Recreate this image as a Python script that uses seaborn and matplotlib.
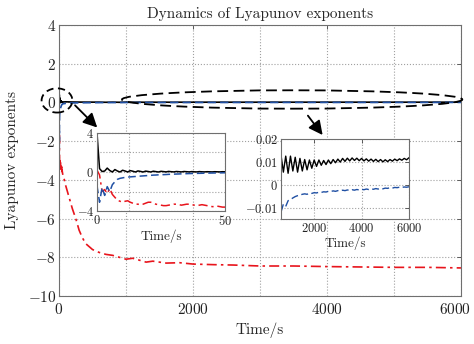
import numpy as np
import matplotlib
matplotlib.use("Agg")
import matplotlib.pyplot as plt
import matplotlib.transforms as mtransforms
from matplotlib.patches import Ellipse
from matplotlib.ticker import FixedLocator, FuncFormatter
import seaborn as sns

# ---- data -------------------------------------------------------------
# transient phase, 0-50 s (1 s steps)
t_early = np.arange(0, 51)
le1_early = [4.0, 0.35, 0.05, 0.1, 0.4, 0.15, 0.0, 0.25, 0.1, 0.0,
             0.18, 0.1, 0.0, 0.14, 0.08, 0.0, 0.11, 0.06, 0.0, 0.09,
             0.05, 0.0, 0.08, 0.04, 0.0, 0.07, 0.04, 0.01, 0.06, 0.03,
             0.01, 0.05, 0.03, 0.01, 0.05, 0.03, 0.01, 0.04, 0.02, 0.01,
             0.04, 0.02, 0.01, 0.03, 0.02, 0.01, 0.03, 0.02, 0.01, 0.03,
             0.02]
le2_early = [-1.4, -3.1, -1.6, -2.4, -1.5, -2.0, -1.3, -1.0, -0.75, -0.65,
             -0.6, -0.55, -0.52, -0.5, -0.48, -0.46, -0.44, -0.42, -0.4, -0.38,
             -0.36, -0.34, -0.32, -0.31, -0.29, -0.28, -0.27, -0.26, -0.24, -0.23,
             -0.22, -0.21, -0.2, -0.19, -0.18, -0.17, -0.16, -0.155, -0.15, -0.14,
             -0.135, -0.13, -0.12, -0.115, -0.11, -0.105, -0.1, -0.095, -0.09, -0.085,
             -0.08]
le3_early = [0.2, -0.3, -2.0, -1.8, -2.2, -1.7, -2.3, -2.6, -2.9, -3.0,
             -3.1, -3.0, -2.95, -3.1, -3.2, -3.3, -3.3, -3.35, -3.3, -3.2,
             -3.1, -3.1, -3.2, -3.3, -3.35, -3.4, -3.45, -3.45, -3.4, -3.35,
             -3.3, -3.3, -3.35, -3.4, -3.35, -3.3, -3.3, -3.35, -3.4, -3.45,
             -3.4, -3.35, -3.4, -3.45, -3.5, -3.55, -3.55, -3.5, -3.55, -3.6,
             -3.6]

# intermediate phase for the two near-zero exponents
t_mid = [100, 200, 300, 400, 500]
le1_mid = [0.03, 0.02, 0.016, 0.014, 0.013]
le2_mid = [-0.05, -0.03, -0.022, -0.018, -0.015]

# long-run phase, 600-6000 s (100 s steps)
t_late = np.arange(600, 6001, 100)
le1_late = [0.013, 0.0055, 0.0125, 0.005, 0.0125, 0.006, 0.012, 0.0055, 0.0115, 0.006,
            0.011, 0.0065, 0.0108, 0.0072, 0.0108, 0.008, 0.0108, 0.0085, 0.0106, 0.0088,
            0.0108, 0.0092, 0.011, 0.0096, 0.0112, 0.0099, 0.0115, 0.0102, 0.0116, 0.0104,
            0.0117, 0.0106, 0.0116, 0.0105, 0.0115, 0.0104, 0.0113, 0.0103, 0.0112, 0.0102,
            0.0111, 0.0101, 0.011, 0.0100, 0.0109, 0.0101, 0.011, 0.0103, 0.0112, 0.0105,
            0.0113, 0.0107, 0.0115, 0.0109, 0.0118]
le2_late = [-0.012, -0.0085, -0.0095, -0.007, -0.0065, -0.0058, -0.0052, -0.0048, -0.0045, -0.0042,
            -0.004, -0.0042, -0.0037, -0.0038, -0.0035, -0.0036, -0.0033, -0.0034, -0.0031, -0.0032,
            -0.0029, -0.003, -0.0027, -0.0029, -0.0026, -0.0027, -0.0024, -0.0026, -0.0023, -0.0025,
            -0.0022, -0.0024, -0.0021, -0.0023, -0.002, -0.0022, -0.0019, -0.0021, -0.0018, -0.002,
            -0.0017, -0.0019, -0.0016, -0.0018, -0.0015, -0.0016, -0.0013, -0.0015, -0.0012, -0.0013,
            -0.0011, -0.0012, -0.001, -0.0011, -0.0009]

# negative exponent after the transient
t_red_late = [60, 80, 100, 150, 200, 250, 300, 350, 400, 500,
              600, 700, 800, 900, 1000, 1100, 1200, 1300, 1400, 1600,
              1800, 2000, 2300, 2600, 3000, 3500, 4000, 4500, 5000, 5500, 6000]
le3_late = [-3.8, -4.0, -4.3, -4.9, -5.5, -6.0, -6.6, -7.0, -7.3, -7.6,
            -7.75, -7.85, -7.9, -8.0, -8.1, -8.05, -8.15, -8.25, -8.2, -8.3,
            -8.28, -8.35, -8.38, -8.4, -8.45, -8.45, -8.48, -8.5, -8.52, -8.52, -8.55]

main_xticks = [0, 2000, 4000, 6000]
main_yticks = [4, 2, 0, -2, -4, -6, -8, -10]

# ---- style ------------------------------------------------------------
sns.set_theme(style="white")
plt.rcParams["font.family"] = ["cmr10"]
plt.rcParams["mathtext.fontset"] = "cm"
plt.rcParams["axes.formatter.use_mathtext"] = True
plt.rcParams["axes.unicode_minus"] = True

BLACK = "#000000"
BLUE = "#1f4fa3"
RED = "#e8141c"
GRID = dict(color="#a0a0a0", linestyle=":", linewidth=0.8)

def math_fmt(v, pos):
    return f"${v:g}$"

def style_axes(ax, fs):
    for sp in ax.spines.values():
        sp.set_color("#6f6f6f")
        sp.set_linewidth(0.8)
    ax.tick_params(direction="in", length=3, width=0.6, colors="#444444",
                   labelcolor="#222222", labelsize=fs, pad=2,
                   top=True, right=True)
    ax.tick_params(which="minor", length=0)
    ax.yaxis.set_major_formatter(FuncFormatter(math_fmt))
    ax.xaxis.set_major_formatter(FuncFormatter(math_fmt))

def draw_series(ax, lw):
    t1 = np.concatenate([t_early, t_mid, t_late])
    sns.lineplot(x=t1, y=np.concatenate([le1_early, le1_mid, le1_late]), ax=ax,
                 color=BLACK, lw=lw, estimator=None, sort=False)
    t3 = np.concatenate([t_early, t_red_late])
    sns.lineplot(x=t3, y=np.concatenate([le3_early, le3_late]), ax=ax,
                 color=RED, lw=lw, linestyle=(0, (6, 2.5, 1.5, 2.5)),
                 estimator=None, sort=False)
    sns.lineplot(x=t1, y=np.concatenate([le2_early, le2_mid, le2_late]), ax=ax,
                 color=BLUE, lw=lw, linestyle=(0, (5, 2.5)),
                 estimator=None, sort=False)

fig = plt.figure(figsize=(4.74, 3.44), dpi=100)

# ---- main axes --------------------------------------------------------
ax = fig.add_axes([0.1245, 0.1395, 0.848, 0.788])
draw_series(ax, 1.2)
ax.set_xlim(0, 6000)
ax.set_ylim(-10, 4)
ax.set_xticks(main_xticks)
ax.set_yticks(main_yticks)
ax.xaxis.set_minor_locator(FixedLocator([1000, 3000, 5000]))
ax.grid(True, which="both", axis="x", **GRID)
ax.grid(True, which="major", axis="y", **GRID)
style_axes(ax, 11)
ax.tick_params(axis="x", pad=4)
ax.set_title("Dynamics of Lyapunov exponents", fontsize=11, pad=5)
ax.set_xlabel("Time/s", fontsize=11, labelpad=4)
ax.set_ylabel("Lyapunov exponents", fontsize=11, labelpad=6)

# keep the last x tick label inside the figure edge
fig.canvas.draw()
last = ax.get_xticklabels()[-1]
last.set_transform(last.get_transform() +
                   mtransforms.ScaledTranslation(-6 / 100, 0, fig.dpi_scale_trans))

# dashed markers around the two regions shown in the insets
ax.add_patch(Ellipse((-30, 0.1), 460, 1.25, fill=False, ls=(0, (4, 2.5)),
                     lw=1.3, ec="black", clip_on=False, zorder=5))
ax.add_patch(Ellipse((3480, 0.15), 5080, 0.95, fill=False, ls=(0, (6, 3)),
                     lw=1.3, ec="black", clip_on=False, zorder=5))
arrow = dict(arrowstyle="-|>,head_length=0.7,head_width=0.35", color="black", lw=1.3)
ax.annotate("", xy=(600, -1.4), xytext=(210, -0.05), arrowprops=arrow, zorder=6)
ax.annotate("", xy=(3960, -1.8), xytext=(3690, -0.57), arrowprops=arrow, zorder=6)

# ---- inset: first 50 s ------------------------------------------------
ax1 = fig.add_axes([0.2046, 0.3866, 0.2701, 0.2268], facecolor="white")
draw_series(ax1, 1.1)
ax1.set_xlim(0, 50)
ax1.set_ylim(-4, 4)
ax1.set_xticks([0, 50])
ax1.set_yticks([-4, 0, 4])
ax1.xaxis.set_minor_locator(FixedLocator([12.5, 37.5]))
ax1.yaxis.set_minor_locator(FixedLocator([-2, 2]))
ax1.grid(True, which="both", **GRID)
style_axes(ax1, 9)
ax1.set_xlabel("Time/s", fontsize=9.5, labelpad=1)
ax1.set_ylabel("")

# ---- inset: long-run behaviour near zero ------------------------------
ax2 = fig.add_axes([0.5928, 0.3634, 0.2700, 0.2326], facecolor="white")
draw_series(ax2, 1.0)
ax2.set_xlim(600, 6000)
ax2.set_ylim(-0.015, 0.02)
ax2.set_xticks([2000, 4000, 6000])
ax2.set_yticks([-0.01, 0, 0.01, 0.02])
ax2.grid(True, which="major", **GRID)
style_axes(ax2, 9)
ax2.set_xlabel("Time/s", fontsize=9.5, labelpad=1)
ax2.set_ylabel("")

fig.savefig("out.png", dpi=100)
